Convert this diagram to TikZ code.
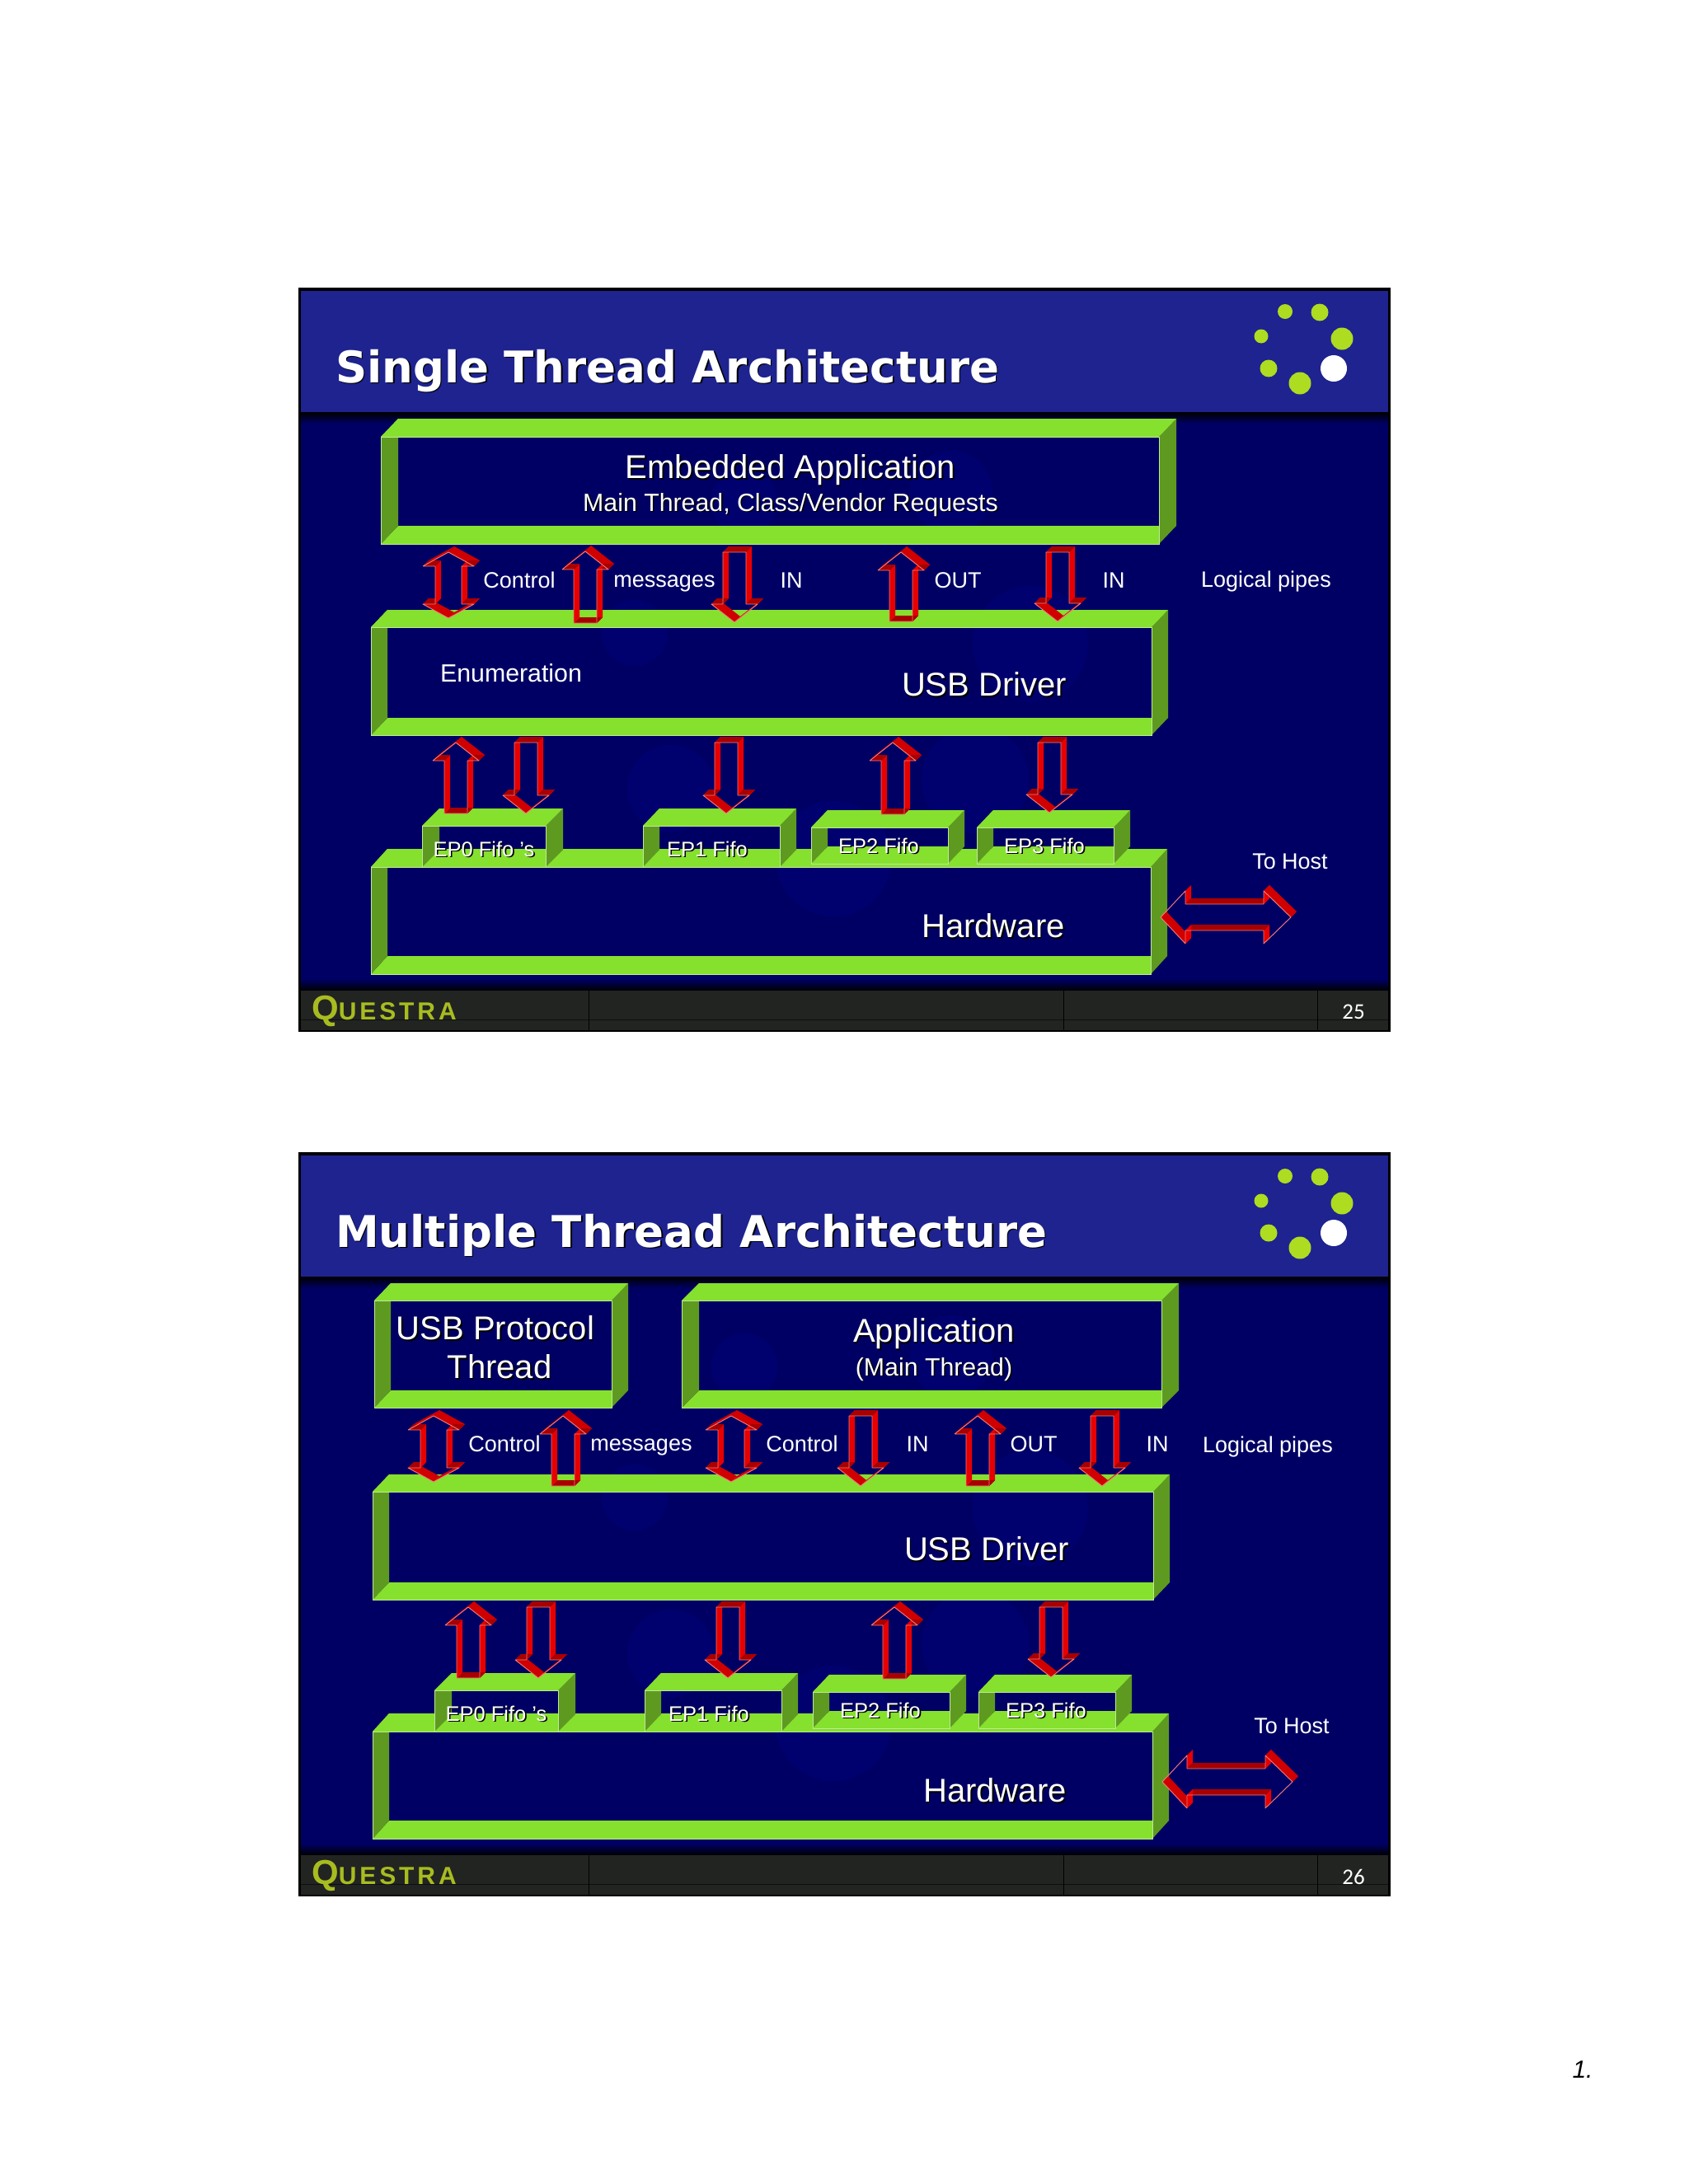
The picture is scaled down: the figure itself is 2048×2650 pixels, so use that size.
\documentclass[tikz,border=0pt]{standalone}
\usepackage{xcolor}
\usepackage{fontspec}
\setmainfont{Liberation Sans}
\newfontfamily\headfont{DejaVu Sans}
\newfontfamily\numfont{Carlito}
\newfontfamily\logofont[LetterSpace=13]{Liberation Sans}
\usepackage{tikz}

\definecolor{slideband}{HTML}{1E2390}
\definecolor{slidebody}{HTML}{000064}
\definecolor{slideglow}{HTML}{00006F}
\definecolor{slidefoot}{HTML}{222422}
\definecolor{dotgreen}{HTML}{AEDC20}
\definecolor{logogreen}{HTML}{A8BC20}
\definecolor{facelit}{HTML}{86E02E}
\definecolor{facedark}{HTML}{5E9A20}
\definecolor{faceedge}{HTML}{BFE89A}
\definecolor{pipeside}{HTML}{E60000}
\definecolor{pipeflat}{HTML}{A80000}
\definecolor{pipeslant}{HTML}{D00000}
\definecolor{pipeedge}{HTML}{F08080}

\tikzset{
  small_label/.style={text=white, inner sep=0pt, font=\fontsize{27}{31}\selectfont},
  mid_label/.style={text=white, inner sep=0pt, font=\fontsize{30.3}{34}\selectfont},
  big_label/.style={text=white, inner sep=0pt, font=\fontsize{40}{46}\selectfont},
  fifo_label/.style={text=white, inner sep=0pt, font=\fontsize{25.5}{29}\selectfont},
  title_label/.style={text=white, inner sep=0pt, anchor=base west, font=\headfont\bfseries\fontsize{53}{58}\selectfont},
  dot/.style={circle, fill=dotgreen, inner sep=0pt},
  pipe_edge/.style={draw=pipeedge, line width=0.9pt, line join=round},
}

\newcommand{\dropshadow}[1]{\leavevmode\rlap{\kern1.6pt\raisebox{-1.6pt}{\textcolor{black}{#1}}}#1}

% hollow box: name, left, top, right, bottom, depth x, depth y
\newcommand{\frameblock}[7]{
  \node[inner sep=0pt] (#1) at ({(#2+#4)/2},{(#3+#5)/2}) {};
  \fill[facelit] (#2,#5) -- (#2+#6,#5-#7) -- (#4,#5-#7) -- (#4,#5) -- cycle;
  \fill[facedark] (#2,#3) -- (#2+#6,#3-#7) -- (#2+#6,#5-#7) -- (#2,#5) -- cycle;
  \fill[facedark] (#4,#3) -- (#4+#6,#3-#7) -- (#4+#6,#5-#7) -- (#4,#5) -- cycle;
  \fill[facelit] (#2,#3) -- (#2+#6,#3-#7) -- (#4+#6,#3-#7) -- (#4,#3) -- cycle;
  \draw[faceedge, line width=0.9pt] (#2,#3) rectangle (#4,#5);
}

% faces and front outline of a hollow block arrow
\newcommand{\pipefaces}[3]{
  \foreach \x/\y [remember=\x as \lx (initially #1), remember=\y as \ly (initially #2)] in {#3} {
    \ifdim\x pt=\lx pt \def\facecol{pipeside}\else\ifdim\y pt=\ly pt \def\facecol{pipeflat}\else\def\facecol{pipeslant}\fi\fi
    \fill[fill=\facecol] (\lx,\ly) -- (\x,\y) -- (\x+7,\y-7) -- (\lx+7,\ly-7) -- cycle;
  }
  \draw[pipe_edge] (#1,#2) \foreach \x/\y in {#3} { -- (\x,\y) };
}
\newcommand{\pipelength}[2]{
  \pgfpointdiff{\pgfpointanchor{#1}{center}}{\pgfpointanchor{#2}{center}}
  \pgfgetlastxy{\pipedx}{\pipedy}
  \pgfmathsetmacro\plen{abs(\pipedx)+abs(\pipedy)}
}
\newcommand{\uppipe}[2]{
  \pipelength{#1}{#2}
  \begin{scope}[shift={(#1)}]
    \pipefaces{-28}{22}{0/0,28/22,14/22,14/\plen,-14/\plen,-14/22,-28/22}
  \end{scope}
}
\newcommand{\downpipe}[2]{
  \pipelength{#1}{#2}
  \pgfmathsetmacro\phead{\plen-22}
  \begin{scope}[shift={(#1)}]
    \pipefaces{-14}{\phead}{-14/0,14/0,14/\phead,28/\phead,0/\plen,-28/\phead,-14/\phead}
  \end{scope}
}
\newcommand{\dualpipe}[2]{
  \pipelength{#1}{#2}
  \pgfmathsetmacro\phead{\plen-17}
  \begin{scope}[shift={(#1)}]
    \pipefaces{-31}{17}{0/0,31/17,16/17,16/\phead,31/\phead,0/\plen,-31/\phead,-16/\phead,-16/17,-31/17}
  \end{scope}
}
\newcommand{\hostpipe}[2]{
  \pipelength{#1}{#2}
  \pgfmathsetmacro\phead{\plen-33}
  \begin{scope}[shift={(#1)}]
    \pipefaces{30}{32}{0/0,30/-32,30/-16,\phead/-16,\phead/-32,\plen/0,\phead/32,\phead/16,30/16,30/32}
  \end{scope}
}

% frame, bands, glows, dots and logo of one slide: suffix, title, number
\newcommand{\slideback}[3]{
  \fill[black] (362,349) rectangle (1687,1252);
  \fill[slidebody] (365,500) rectangle (1684,1202);
  \shade[top color=black, bottom color=slidebody] (365,500) rectangle (1684,514);
  \shade[top color=slidebody, bottom color=black] (365,1188) rectangle (1684,1202);
  \fill[slideglow] (770,768) circle (40);
  \fill[slideglow] (814,957) circle (53);
  \fill[slideglow] (1011,1042) circle (70);
  \fill[slideglow] (1183,946) circle (65);
  \fill[slideglow] (1250,781) circle (70);
  \fill[slideglow] (903,609) circle (40);
  \fill[slideglow] (1154,597) circle (50);
  \fill[slideband] (365,353) rectangle (1684,500);
  \fill[slidefoot] (365,1202) rectangle (1684,1250);
  \draw[black!60!slidefoot, line width=0.8pt] (365,1237) -- (1684,1237);
  \draw[black, line width=1pt] (714,1202) -- (714,1250);
  \draw[black, line width=1pt] (1290,1202) -- (1290,1250);
  \draw[black, line width=1pt] (1598,1202) -- (1598,1250);
  \node[title_label] (title_#1) at (407,464) {\dropshadow{#2}};
  \node[dot, minimum size=18pt] (dot_a_#1) at (1559,378) {};
  \node[dot, minimum size=21pt] (dot_b_#1) at (1601,379) {};
  \node[dot, minimum size=27pt] (dot_c_#1) at (1628,411) {};
  \node[dot, fill=white, minimum size=32pt] (dot_d_#1) at (1618,447) {};
  \node[dot, minimum size=27pt] (dot_e_#1) at (1577,465) {};
  \node[dot, minimum size=21pt] (dot_f_#1) at (1539,447) {};
  \node[dot, minimum size=17pt] (dot_g_#1) at (1530,408) {};
  \node[text=logogreen, inner sep=0pt, anchor=base west] (logo_#1) at (378,1237) {\logofont\bfseries\fontsize{42}{44}\selectfont Q\fontsize{30}{32}\selectfont UESTRA};
  \node[text=white, inner sep=0pt, font=\numfont\fontsize{27}{30}\selectfont] (number_#1) at (1642,1228) {#3};
}

\begin{document}
\begin{tikzpicture}[x=1pt, y=-1pt]
\useasboundingbox (0,0) rectangle (2048,2650);
\fill[white] (0,0) rectangle (2048,2650);

% first slide
\slideback{one}{Single Thread Architecture}{25}

\frameblock{app_one}{462}{530}{1406}{660}{21}{22}
\frameblock{driver_one}{450}{761}{1397}{892}{20}{21}
\frameblock{hardware_one}{450}{1052}{1396}{1182}{20}{22}
\frameblock{fifo_0_one}{512}{1002}{662}{1052}{21}{21}
\frameblock{fifo_1_one}{780}{1002}{946}{1052}{20}{21}
\frameblock{fifo_2_one}{984}{1004}{1150}{1048}{20}{21}
\frameblock{fifo_3_one}{1185}{1004}{1351}{1048}{20}{21}

\coordinate (logical_0_top) at (544,670);
\coordinate (logical_0_bot) at (544,750);
\coordinate (logical_1_top) at (710,669);
\coordinate (logical_1_bot) at (710,756);
\coordinate (logical_2_top) at (891,670);
\coordinate (logical_2_bot) at (891,755);
\coordinate (logical_3_top) at (1093,670);
\coordinate (logical_3_bot) at (1093,754);
\coordinate (logical_4_top) at (1283,670);
\coordinate (logical_4_bot) at (1283,754);
\coordinate (fifo_pipe_0_top) at (553,901);
\coordinate (fifo_pipe_0_bot) at (553,987);
\coordinate (fifo_pipe_1_top) at (638,901);
\coordinate (fifo_pipe_1_bot) at (638,987);
\coordinate (fifo_pipe_2_top) at (881,901);
\coordinate (fifo_pipe_2_bot) at (881,987);
\coordinate (fifo_pipe_3_top) at (1083,901);
\coordinate (fifo_pipe_3_bot) at (1083,988);
\coordinate (fifo_pipe_4_top) at (1273,901);
\coordinate (fifo_pipe_4_bot) at (1273,986);
\coordinate (host_left) at (1408,1113);
\coordinate (host_right) at (1566,1113);

\dualpipe{logical_0_top}{logical_0_bot}
\uppipe{logical_1_top}{logical_1_bot}
\downpipe{logical_2_top}{logical_2_bot}
\uppipe{logical_3_top}{logical_3_bot}
\downpipe{logical_4_top}{logical_4_bot}
\uppipe{fifo_pipe_0_top}{fifo_pipe_0_bot}
\downpipe{fifo_pipe_1_top}{fifo_pipe_1_bot}
\downpipe{fifo_pipe_2_top}{fifo_pipe_2_bot}
\uppipe{fifo_pipe_3_top}{fifo_pipe_3_bot}
\downpipe{fifo_pipe_4_top}{fifo_pipe_4_bot}
\hostpipe{host_left}{host_right}

\node[big_label] (app_text) at (959,571) {\dropshadow{Embedded Application}};
\node[mid_label] (app_sub) at (959,613) {\dropshadow{Main Thread, Class/Vendor Requests}};
\node[mid_label] (enum_text) at (620,817) {Enumeration};
\node[big_label] (driver_text) at (1194,831) {\dropshadow{USB Driver}};
\node[big_label] (hardware_text) at (1205,1124) {\dropshadow{Hardware}};
\node[fifo_label] (fifo_0_text) at (587,1031) {\dropshadow{EP0 Fifo ’s}};
\node[fifo_label] (fifo_1_text) at (858,1031) {\dropshadow{EP1 Fifo}};
\node[fifo_label] (fifo_2_text) at (1066,1027) {\dropshadow{EP2 Fifo}};
\node[fifo_label] (fifo_3_text) at (1267,1027) {\dropshadow{EP3 Fifo}};
\node[small_label] (control_text) at (630,704) {Control};
\node[small_label] (messages_text) at (806,708) {messages};
\node[small_label] (in_0_text) at (960,704) {IN};
\node[small_label] (out_text) at (1162,704) {OUT};
\node[small_label] (in_1_text) at (1351,704) {IN};
\node[small_label] (pipes_text) at (1536,706) {Logical pipes};
\node[small_label] (host_text) at (1565,1045) {To Host};

% second slide
\begin{scope}[shift={(0,1049)}]
\slideback{two}{Multiple Thread Architecture}{26}

\frameblock{thread_two}{454}{529}{742}{659}{20}{21}
\frameblock{app_two}{827}{529}{1409}{659}{21}{21}
\frameblock{driver_two}{452}{761}{1399}{892}{20}{21}
\frameblock{hardware_two}{452}{1052}{1398}{1182}{20}{22}
\frameblock{fifo_0_two}{527}{1002}{677}{1052}{21}{21}
\frameblock{fifo_1_two}{782}{1002}{948}{1052}{20}{21}
\frameblock{fifo_2_two}{986}{1004}{1152}{1048}{20}{21}
\frameblock{fifo_3_two}{1187}{1004}{1353}{1048}{20}{21}

\coordinate (usb_0_top) at (526,669);
\coordinate (usb_0_bot) at (526,749);
\coordinate (usb_1_top) at (683,669);
\coordinate (usb_1_bot) at (683,754);
\coordinate (usb_2_top) at (887,669);
\coordinate (usb_2_bot) at (887,749);
\coordinate (usb_3_top) at (1044,669);
\coordinate (usb_3_bot) at (1044,754);
\coordinate (usb_4_top) at (1186,669);
\coordinate (usb_4_bot) at (1186,754);
\coordinate (usb_5_top) at (1337,669);
\coordinate (usb_5_bot) at (1337,754);
\coordinate (ep_pipe_0_top) at (568,901);
\coordinate (ep_pipe_0_bot) at (568,987);
\coordinate (ep_pipe_1_top) at (653,901);
\coordinate (ep_pipe_1_bot) at (653,987);
\coordinate (ep_pipe_2_top) at (883,901);
\coordinate (ep_pipe_2_bot) at (883,987);
\coordinate (ep_pipe_3_top) at (1085,901);
\coordinate (ep_pipe_3_bot) at (1085,988);
\coordinate (ep_pipe_4_top) at (1275,901);
\coordinate (ep_pipe_4_bot) at (1275,986);
\coordinate (link_left) at (1410,1113);
\coordinate (link_right) at (1568,1113);

\dualpipe{usb_0_top}{usb_0_bot}
\uppipe{usb_1_top}{usb_1_bot}
\dualpipe{usb_2_top}{usb_2_bot}
\downpipe{usb_3_top}{usb_3_bot}
\uppipe{usb_4_top}{usb_4_bot}
\downpipe{usb_5_top}{usb_5_bot}
\uppipe{ep_pipe_0_top}{ep_pipe_0_bot}
\downpipe{ep_pipe_1_top}{ep_pipe_1_bot}
\downpipe{ep_pipe_2_top}{ep_pipe_2_bot}
\uppipe{ep_pipe_3_top}{ep_pipe_3_bot}
\downpipe{ep_pipe_4_top}{ep_pipe_4_bot}
\hostpipe{link_left}{link_right}

\node[big_label] (thread_text_a) at (601,563) {\dropshadow{USB Protocol}};
\node[big_label] (thread_text_b) at (606,610) {\dropshadow{Thread}};
\node[big_label] (main_text) at (1133,570) {\dropshadow{Application}};
\node[mid_label] (main_sub) at (1133,613) {\dropshadow{(Main Thread)}};
\node[big_label] (usb_text) at (1197,831) {\dropshadow{USB Driver}};
\node[big_label] (hw_text) at (1207,1124) {\dropshadow{Hardware}};
\node[fifo_label] (ep_0_text) at (602,1031) {\dropshadow{EP0 Fifo ’s}};
\node[fifo_label] (ep_1_text) at (860,1031) {\dropshadow{EP1 Fifo}};
\node[fifo_label] (ep_2_text) at (1068,1027) {\dropshadow{EP2 Fifo}};
\node[fifo_label] (ep_3_text) at (1269,1027) {\dropshadow{EP3 Fifo}};
\node[small_label] (ctrl_0_text) at (612,703) {Control};
\node[small_label] (msg_text) at (778,707) {messages};
\node[small_label] (ctrl_1_text) at (973,703) {Control};
\node[small_label] (in_2_text) at (1113,703) {IN};
\node[small_label] (out_2_text) at (1254,703) {OUT};
\node[small_label] (in_3_text) at (1404,703) {IN};
\node[small_label] (logical_text) at (1538,706) {Logical pipes};
\node[small_label] (tohost_text) at (1567,1045) {To Host};
\end{scope}

\node[inner sep=0pt, font=\itshape\fontsize{30}{34}\selectfont] (page_mark) at (1920,2511) {1.};

\end{tikzpicture}
\end{document}
